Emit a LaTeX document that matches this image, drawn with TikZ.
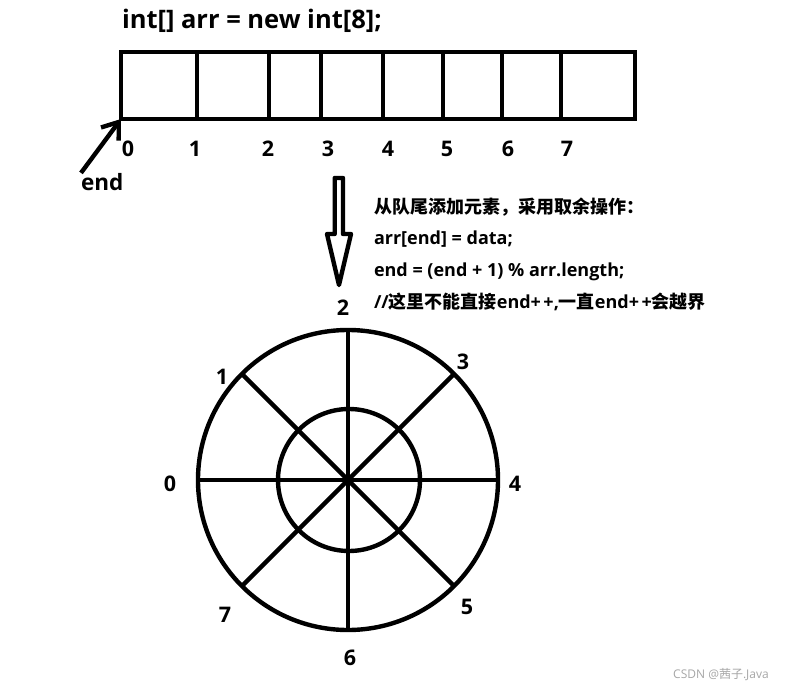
\documentclass[tikz,border=0pt]{standalone}
\usepackage{fontspec}
\setmainfont{Open Sans}
\newfontfamily\cjk{Noto Sans CJK SC}
\usetikzlibrary{arrows.meta}

\newcommand{\plusplus}{+\kern2.5pt+}

\begin{document}
\begin{tikzpicture}[x=1pt,y=-1pt,line width=4.4pt,
every node/.style={inner sep=0pt,outer sep=0pt,font=\bfseries},
cell/.style={shape=rectangle,draw,minimum height=67pt},
idx/.style={font=\bfseries\fontsize{21.5}{25}\selectfont},
note/.style={anchor=base west,font=\bfseries\fontsize{18}{22}\selectfont}]
\useasboundingbox (0,0) rectangle (788,688);
% array
\path (122,28) node (title) [anchor=base west,font=\bfseries\fontsize{25.5}{30}\selectfont] {int[] arr = new int[8];};
\path (159,85.5) node (c0) [cell,minimum width=76pt] {};
\path (233,85.5) node (c1) [cell,minimum width=72pt] {};
\path (295,85.5) node (c2) [cell,minimum width=52pt] {};
\path (352,85.5) node (c3) [cell,minimum width=62pt] {};
\path (413,85.5) node (c4) [cell,minimum width=60pt] {};
\path (472.5,85.5) node (c5) [cell,minimum width=59pt] {};
\path (531.5,85.5) node (c6) [cell,minimum width=59pt] {};
\path (598,85.5) node (c7) [cell,minimum width=74pt] {};
\path (128,149) node (i0) [idx] {0};
\path (195,149) node (i1) [idx] {1};
\path (268,149) node (i2) [idx] {2};
\path (328,149) node (i3) [idx] {3};
\path (388,149) node (i4) [idx] {4};
\path (447,149) node (i5) [idx] {5};
\path (508,149) node (i6) [idx] {6};
\path (567,149) node (i7) [idx] {7};
\path (81,190) node (end) [anchor=base west,font=\bfseries\fontsize{22.5}{26}\selectfont] {end};
\draw [-{Straight Barb[length=15pt,width=22pt]}] (end.north west) to (c0.south west);

% hollow arrow
\draw [line join=round] (334.7,178) -- (343,178) -- (343,234) -- (351,234) -- (339,285) -- (327,234) -- (334.7,234) -- cycle;

% note
\path (374,213) node (l1) [note] {{\cjk 从队尾添加元素，采用取余操作：}};
\path (374,244) node (l2) [note] {arr[end] = data;};
\path (374,276) node (l3) [note] {end = (end + 1) \% arr.length;};
\path (374,308) node (l4) [note] {//{\cjk 这里不能直接}end\plusplus,{\cjk 一直}end\plusplus{\cjk 会越界}};

% ring
\path (348,480) node (ring) [shape=circle,draw,minimum size=300pt] {};
\path (349,480) node (hub) [shape=circle,draw,minimum size=142pt] {};
\draw (ring.90) -- (ring.270);
\draw (ring.180) -- (ring.0);
\draw (ring.135) -- (ring.315);
\draw (ring.45) -- (ring.225);
\path (170,484) node (p0) [idx] {0};
\path (222,377) node (p1) [idx] {1};
\path (343,308) node (p2) [idx] {2};
\path (463,362) node (p3) [idx] {3};
\path (515,484) node (p4) [idx] {4};
\path (467,607) node (p5) [idx] {5};
\path (350,658) node (p6) [idx] {6};
\path (225,615) node (p7) [idx] {7};

\path (721,675) node (mark) [font=\fontsize{12}{14}\selectfont,text=black!35] {CSDN @{\cjk 茜子}.Java};
\end{tikzpicture}
\end{document}
